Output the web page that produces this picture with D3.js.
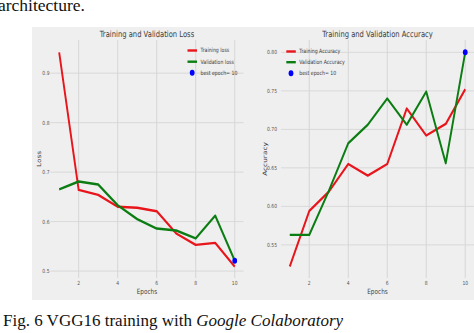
<!DOCTYPE html>
<html>
<head>
<meta charset="utf-8">
<script src="https://cdn.jsdelivr.net/npm/d3@7"></script>
<style>
  html, body { margin: 0; padding: 0; background: #ffffff; }
  svg { display: block; }
</style>
</head>
<body>
<svg id="fig" width="474" height="333"></svg>
<script>
// Training history of VGG16 over 10 epochs
const epochs = [1, 2, 3, 4, 5, 6, 7, 8, 9, 10];
const trainLoss = [0.942, 0.664, 0.654, 0.630, 0.628, 0.621, 0.576, 0.553, 0.557, 0.509];
const valLoss   = [0.665, 0.681, 0.675, 0.633, 0.605, 0.586, 0.582, 0.566, 0.612, 0.521];
const trainAcc  = [0.522, 0.594, 0.619, 0.655, 0.640, 0.655, 0.727, 0.692, 0.707, 0.752];
const valAcc    = [0.563, 0.563, 0.620, 0.682, 0.706, 0.740, 0.706, 0.749, 0.656, 0.800];
const bestEpoch = 10;

const xTicks = [2, 4, 6, 8, 10];
const lossTicks = [0.5, 0.6, 0.7, 0.8, 0.9];
const accTicks = [0.55, 0.60, 0.65, 0.70, 0.75, 0.80];

const lossLegend = ["Training loss", "Validation loss", "best epoch= " + bestEpoch];
const accLegend = ["Training Accuracy", "Validation Accuracy", "best epoch= " + bestEpoch];

const C = { train: "#e8151b", val: "#0b7d12", best: "#0000ff", grid: "#d6d6d6",
            bg: "#efefef", text: "#3c3c3c", tick: "#555555" };

// the plotted figure is rendered with a slight horizontal compression
const SX = 0.8;
const u = v => v / SX;

const svg = d3.select("#fig");
svg.append("rect").attr("width", 474).attr("height", 333).attr("fill", "#fff");

// surrounding document text
svg.append("text")
  .attr("x", -2).attr("y", 11)
  .attr("font-family", "Liberation Serif, Times New Roman, serif")
  .attr("font-size", 17.5).attr("fill", "#111")
  .text("architecture.");

const cap = svg.append("text")
  .attr("x", 3).attr("y", 326)
  .attr("font-family", "Liberation Serif, Times New Roman, serif")
  .attr("font-size", 17).attr("fill", "#111");
cap.append("tspan").text("Fig. 6 VGG16 training with ");
cap.append("tspan").attr("font-style", "italic").text("Google Colaboratory");

const fig = svg.append("g").attr("transform", `scale(${SX},1)`);
fig.append("rect")
  .attr("x", u(32)).attr("y", 27)
  .attr("width", u(474 - 32)).attr("height", 300 - 27)
  .attr("fill", C.bg);

const FONT = "DejaVu Sans, Verdana, sans-serif";
const yRange = [278, 40];

function panel(cfg) {
  const x = d3.scaleLinear().domain([0.55, 10.45]).range(cfg.xr.map(u));
  const y = d3.scaleLinear().domain(cfg.ydom).range(yRange);
  const g = fig.append("g");

  // grid
  g.append("g").selectAll("line").data(cfg.yTicks).join("line")
    .attr("x1", x.range()[0]).attr("x2", x.range()[1])
    .attr("y1", d => y(d)).attr("y2", d => y(d))
    .attr("stroke", C.grid).attr("stroke-width", 1);
  g.append("g").selectAll("line").data(xTicks).join("line")
    .attr("x1", d => x(d)).attr("x2", d => x(d))
    .attr("y1", yRange[0]).attr("y2", yRange[1])
    .attr("stroke", C.grid).attr("stroke-width", u(1));

  // tick labels
  g.append("g").selectAll("text").data(cfg.yTicks).join("text")
    .attr("x", u(cfg.yLabelX)).attr("y", d => y(d) + 2)
    .attr("text-anchor", "end")
    .attr("font-family", FONT).attr("font-size", 5.6).attr("fill", C.tick)
    .text(d => d3.format(cfg.yFmt)(d));
  g.append("g").selectAll("text").data(xTicks).join("text")
    .attr("x", d => x(d)).attr("y", 285)
    .attr("text-anchor", "middle")
    .attr("font-family", FONT).attr("font-size", 5.6).attr("fill", C.tick)
    .text(d => d);

  // axis titles
  const cx = (x.range()[0] + x.range()[1]) / 2;
  g.append("text").attr("x", cx).attr("y", 37.5)
    .attr("text-anchor", "middle")
    .attr("font-family", FONT).attr("font-size", 8.5).attr("fill", C.text)
    .text(cfg.title);
  g.append("text").attr("x", cx).attr("y", 294)
    .attr("text-anchor", "middle")
    .attr("font-family", FONT).attr("font-size", 7.2).attr("fill", C.text)
    .text("Epochs");
  g.append("text")
    .attr("transform", `translate(${u(cfg.yTitleX)},159) rotate(-90)`)
    .attr("text-anchor", "middle")
    .attr("font-family", FONT).attr("font-size", 7.4).attr("fill", C.text)
    .text(cfg.yTitle);

  // series
  const line = d3.line().x((d, i) => x(epochs[i])).y(d => y(d));
  [[cfg.train, C.train], [cfg.val, C.val]].forEach(([vals, col]) => {
    g.append("path").datum(vals).attr("d", line)
      .attr("fill", "none").attr("stroke", col)
      .attr("stroke-width", 2.4).attr("stroke-linejoin", "round");
  });
  const bi = epochs.indexOf(bestEpoch);
  g.append("circle")
    .attr("cx", x(bestEpoch)).attr("cy", y(cfg.val[bi]))
    .attr("r", 3).attr("fill", C.best);

  // legend
  const lg = g.append("g");
  const rows = [C.train, C.val, C.best];
  cfg.legend.forEach((lab, i) => {
    const yy = cfg.legY[i];
    if (i < 2) {
      lg.append("line")
        .attr("x1", u(cfg.legX)).attr("x2", u(cfg.legX + 9.5))
        .attr("y1", yy).attr("y2", yy)
        .attr("stroke", rows[i]).attr("stroke-width", 2.4);
    } else {
      lg.append("circle").attr("cx", u(cfg.legX + 4.7)).attr("cy", yy)
        .attr("r", 3).attr("fill", rows[i]);
    }
    lg.append("text").attr("x", u(cfg.legX + 13)).attr("y", yy + 2)
      .attr("font-family", FONT).attr("font-size", 5.8).attr("fill", C.text)
      .text(lab);
  });
}

panel({
  xr: [50.4, 243.5], ydom: [0.486, 0.967], yTicks: lossTicks, yFmt: ".1f",
  yLabelX: 49.5, yTitleX: 41, yTitle: "Loss",
  title: "Training and Validation Loss",
  train: trainLoss, val: valLoss, legend: lossLegend,
  legX: 187.5, legY: [50.5, 61.7, 72.8]
});

panel({
  xr: [281, 474], ydom: [0.507, 0.816], yTicks: accTicks, yFmt: ".2f",
  yLabelX: 277, yTitleX: 266.5, yTitle: "Accuracy",
  title: "Training and Validation Accuracy",
  train: trainAcc, val: valAcc, legend: accLegend,
  legX: 286.3, legY: [51.5, 62.2, 73.2]
});
</script>
</body>
</html>
